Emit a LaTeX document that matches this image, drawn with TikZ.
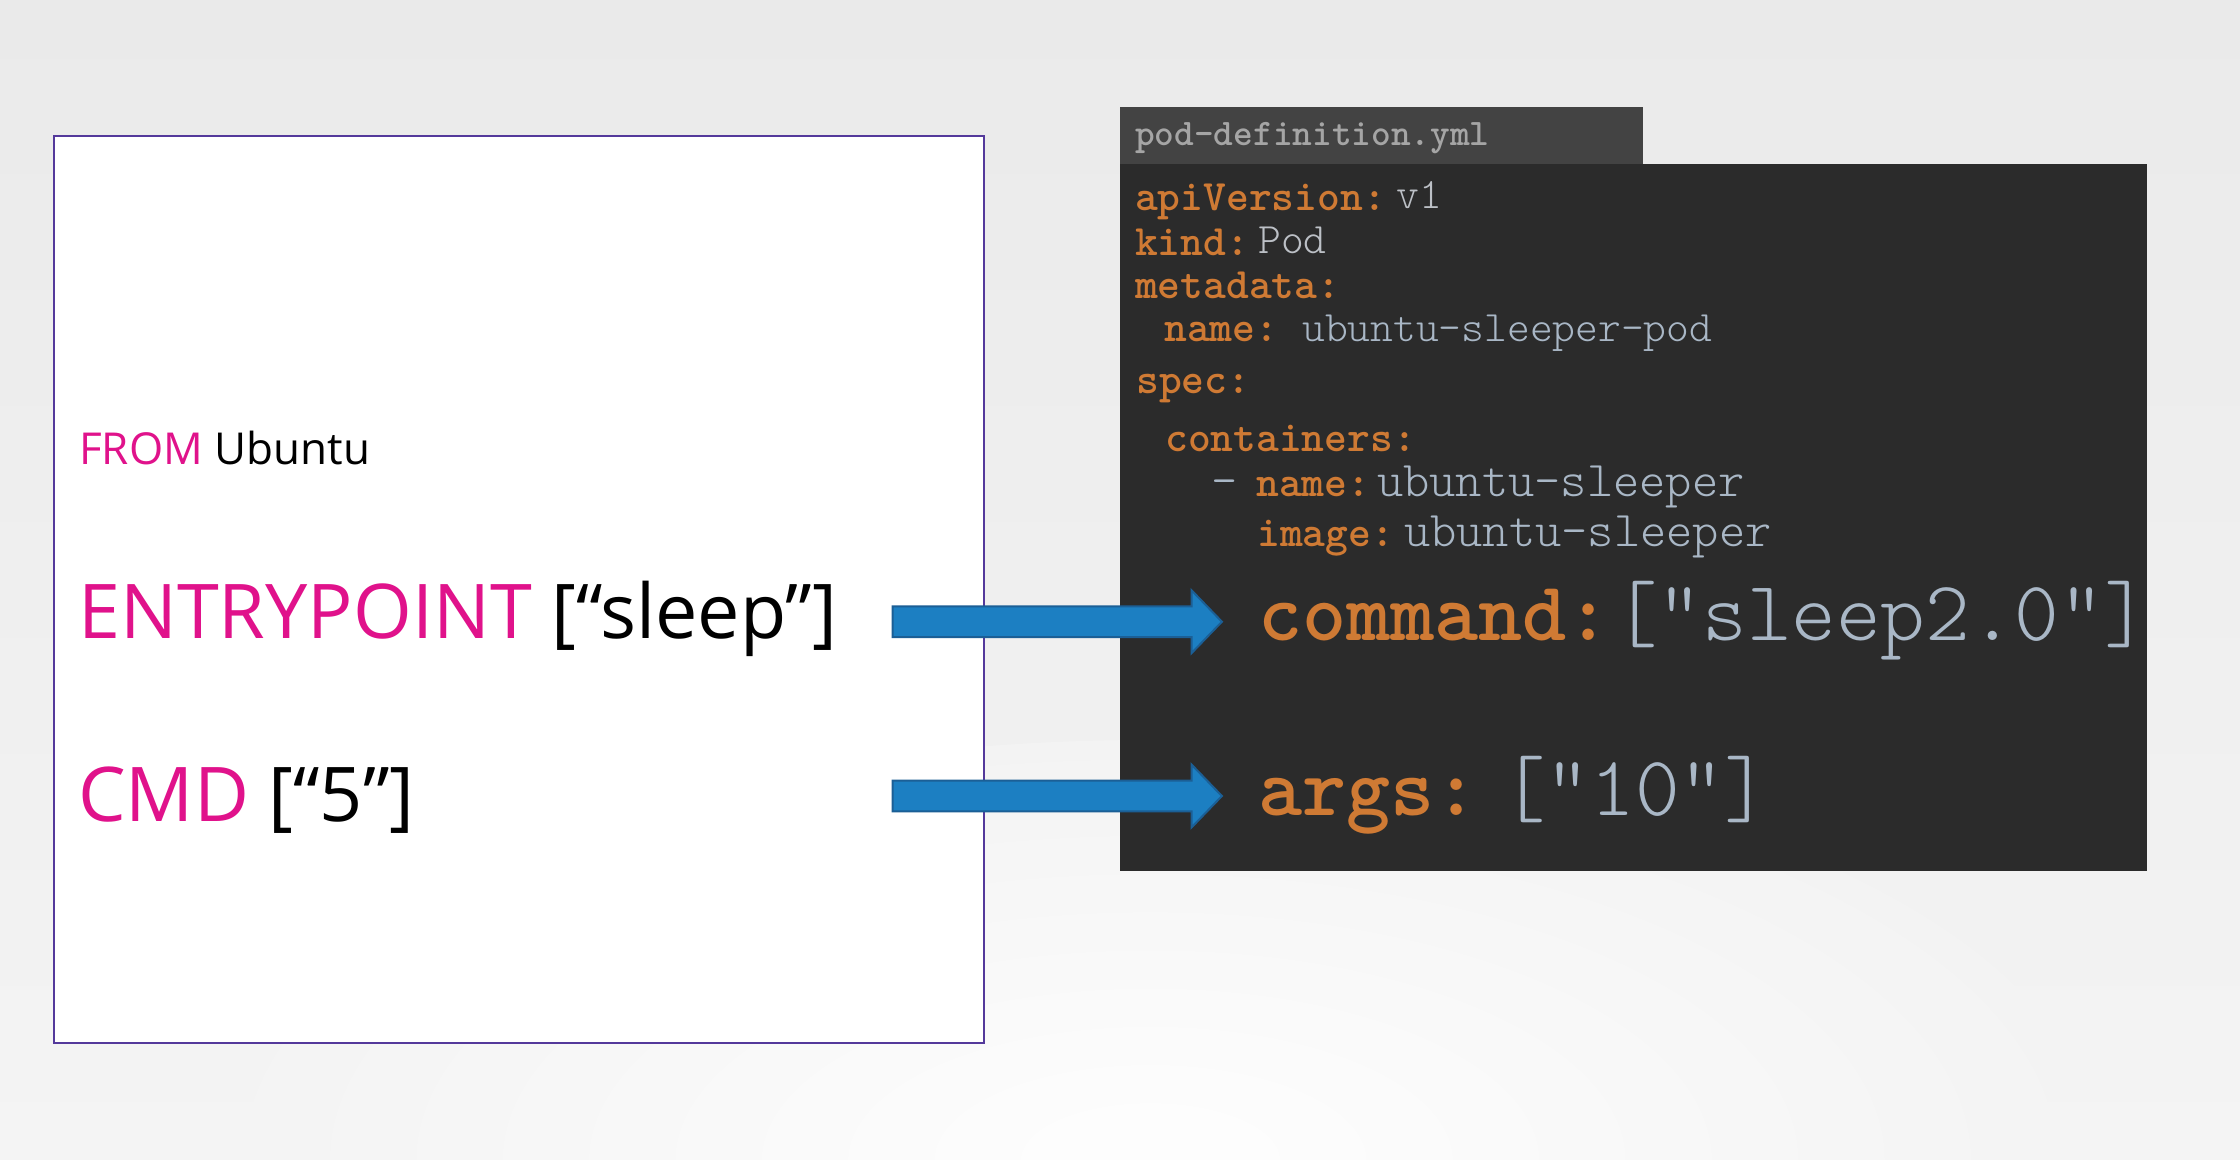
\documentclass[tikz,border=0pt]{standalone}
\usepackage{fontspec}
\setmainfont{Open Sans}
\usetikzlibrary{shapes.arrows}
\definecolor{bgtop}{HTML}{EAEAEA}
\definecolor{bgbot}{HTML}{F4F4F4}
\definecolor{mag}{HTML}{E0128B}
\definecolor{boxline}{HTML}{54399B}
\definecolor{tabfill}{HTML}{434343}
\definecolor{codefill}{HTML}{2B2B2B}
\definecolor{tabtext}{HTML}{A5A5A5}
\definecolor{ykey}{HTML}{CF7A34}
\definecolor{yval}{HTML}{A9B7C6}
\definecolor{yval2}{HTML}{BCC0C6}
\definecolor{arrfill}{HTML}{1C7FC2}
\definecolor{arrline}{HTML}{1B5F96}
\tikzset{
  txt/.style={anchor=base west, inner sep=0pt},
  keysm/.style={txt, text=ykey, font=\ttfamily\bfseries\fontsize{43.4}{50}\selectfont},
  valsm/.style={txt, text=yval, font=\ttfamily\fontseries{l}\selectfont\fontsize{43.4}{50}\selectfont},
  valmd/.style={txt, text=yval, font=\ttfamily\fontseries{l}\selectfont\fontsize{50}{56}\selectfont},
  keybig/.style={txt, text=ykey, font=\ttfamily\bfseries\fontsize{84}{90}\selectfont},
  valbig/.style={txt, text=yval, font=\ttfamily\fontseries{l}\selectfont\fontsize{85}{90}\selectfont},
  blockarrow/.style={single arrow, draw=arrline, fill=arrfill, line width=2pt,
    single arrow head extend=16.05pt, single arrow tip angle=92, inner sep=0pt,
    text height=14.3pt, text depth=14.3pt, anchor=tail,
    minimum width=60.7pt, minimum height=329.2pt},
}
\begin{document}
\begin{tikzpicture}[x=1pt,y=-1pt]
\useasboundingbox (0,0) rectangle (2240,1159);
% background
\shade[top color=bgtop, bottom color=bgbot] (0,0) rectangle (2240,1159);
\begin{scope}
\clip (0,0) rectangle (2240,1159);
\shade[inner color=white, outer color=bgbot, opacity=0.9] (1150,1160) ellipse (950 and 420);
\end{scope}
% Dockerfile box
\node[draw=boxline, fill=white, line width=2.5pt, minimum width=930pt, minimum height=907pt, inner sep=0pt] (dockerfile) at (519,589.5) {};
\node[txt, font=\fontsize{44}{50}\selectfont] (from) at (79,464) {\textcolor{mag}{FROM} Ubuntu};
\node[txt, font=\fontsize{75.5}{80}\selectfont] (entry) at (78,638) {\textcolor{mag}{ENTRYPOINT} [“sleep”]};
\node[txt, font=\fontsize{75.5}{80}\selectfont] (cmd) at (78,821) {\textcolor{mag}{CMD} [“5”]};
% YAML panel
\node[fill=tabfill, minimum width=523pt, minimum height=57pt, inner sep=0pt] (tab) at (1381.5,135.5) {};
\node[fill=codefill, minimum width=1027pt, minimum height=707pt, inner sep=0pt] (code) at (1633.5,517.5) {};
\node[txt, text=tabtext, font=\ttfamily\bfseries\fontsize{37.5}{40}\selectfont] (fname) at (1135,145) {pod-definition.yml};
\node[keysm] (k1) at (1135,210) {apiVersion:};
\node[valsm, text=yval2] (v1) at (1396,208) {v1};
\node[keysm] (k2) at (1135,255) {kind:};
\node[valsm, text=yval2] (v2) at (1258,253) {Pod};
\node[keysm] (k3) at (1135,298) {metadata:};
\node[keysm] (k4) at (1164,341.5) {name:};
\node[valsm] (v4) at (1302,341.5) {ubuntu-sleeper-pod};
\node[keysm] (k5) at (1136,393) {spec:};
\node[keysm] (k6) at (1165,451) {containers:};
\node[valmd] (dash) at (1211,496) {-};
\node[keysm] (k7) at (1256,496) {name:};
\node[valmd] (v7) at (1377,496) {ubuntu-sleeper};
\node[keysm] (k8) at (1257,546) {image:};
\node[valmd] (v8) at (1404,546) {ubuntu-sleeper};
\node[keybig] (kcmd) at (1258,640) {command:};
\node[valbig] (vcmd) at (1613,640) {[“sleep2.0”]};
\node[keybig] (kargs) at (1258,815) {args:};
\node[valbig] (vargs) at (1501,815) {[“10”]};
% arrows
\node[blockarrow] (arr1) at (891.7,621.7) {};
\node[blockarrow] (arr2) at (891.7,796) {};
\end{tikzpicture}
\end{document}
